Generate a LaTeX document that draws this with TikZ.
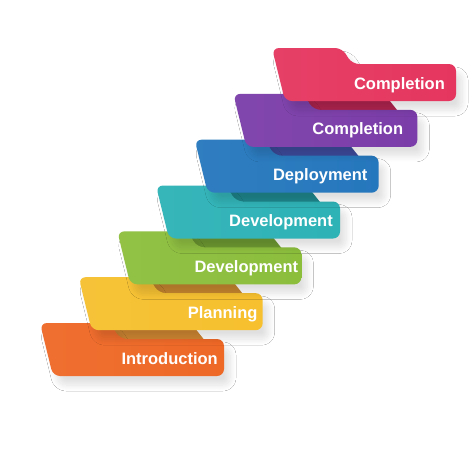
\documentclass[tikz,border=0pt]{standalone}
\usepackage{fontspec}
\setmainfont{Liberation Sans}
\usetikzlibrary{shadows.blur}
\definecolor{cA}{HTML}{EE6826}
\definecolor{cB}{HTML}{F6C02E}
\definecolor{cC}{HTML}{8CBE3C}
\definecolor{cD}{HTML}{2DB2B6}
\definecolor{cE}{HTML}{2577BD}
\definecolor{cF}{HTML}{7B3DA9}
\definecolor{cG}{HTML}{E5365F}
\definecolor{sA}{HTML}{CF8733}
\definecolor{sB}{HTML}{C6862F}
\definecolor{sC}{HTML}{6E9A32}
\definecolor{sD}{HTML}{1E878C}
\definecolor{sE}{HTML}{3D4A9A}
\definecolor{sF}{HTML}{B0244F}
\definecolor{sG}{HTML}{B0244F}
\tikzset{
  stepshape/.style={rounded corners=7pt, blur shadow={shadow xshift=6pt, shadow yshift=-9pt, shadow blur steps=12, shadow blur radius=6pt, shadow opacity=12}},
  steplabel/.style={text=white, font=\bfseries\fontsize{16.5}{18}\selectfont, inner sep=0pt}
}
\begin{document}
\begin{tikzpicture}[x=1pt,y=-1pt]
\fill[white] (0,0) rectangle (474,474);
\useasboundingbox (0,0) rectangle (474,474);
\foreach \i/\col/\scol/\lab/\te in {0/cA/sA/Introduction/178, 1/cB/sB/Planning/179, 2/cC/sC/Development/181, 3/cD/sD/Development/177, 4/cE/sE/Deployment/173, 5/cF/sF/Completion/170, 6/cG/sG/Completion/173}{
  \pgfmathsetmacro\xo{40+\i*38.67}
  \pgfmathsetmacro\yo{323-\i*45.83}
  \ifnum\i<6
    \fill[\scol] (\xo+72,\yo+4) -- (\xo+154,\yo+4) -- (\xo+164,\yo+16.5) -- (\xo+80,\yo+16.5) -- cycle;
  \fi
  \shade[stepshape, left color=\col!95!white, right color=\col]
    (\xo,\yo) -- (\xo+70,\yo) -- (\xo+80,\yo+16) -- (\xo+184,\yo+16) -- (\xo+184,\yo+53) -- (\xo+13,\yo+53) -- cycle;
  \node[steplabel, anchor=base east] (s\i) at (\xo+\te,\yo+41) {\lab};
}
\end{tikzpicture}
\end{document}
